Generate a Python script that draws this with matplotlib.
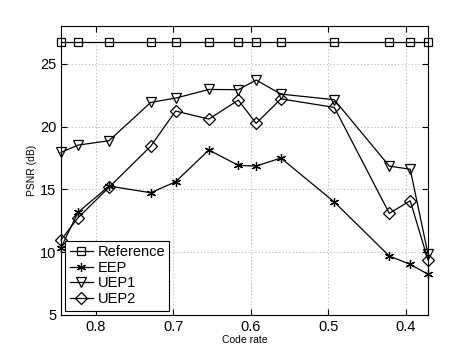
import matplotlib
matplotlib.use("Agg")
import matplotlib.pyplot as plt

code_rate = [0.845, 0.823, 0.783, 0.729, 0.697, 0.654, 0.616, 0.593, 0.561, 0.492, 0.421, 0.394, 0.371]
reference = [26.75] * 13
eep = [10.36, 13.17, 15.26, 14.73, 15.6, 18.13, 16.91, 16.85, 17.49, 13.99, 9.69, 9.03, 8.24]
uep1 = [17.94, 18.52, 18.87, 21.92, 22.26, 22.95, 22.93, 23.7, 22.58, 22.13, 16.85, 16.6, 9.85]
uep2 = [10.97, 12.74, 15.16, 18.44, 21.23, 20.59, 22.1, 20.25, 22.2, 21.52, 13.09, 14.09, 9.38]

xticks = [0.8, 0.7, 0.6, 0.5, 0.4]
yticks = [5, 10, 15, 20, 25]

plt.rcParams['font.family'] = ['Liberation Sans', 'DejaVu Sans']

fig = plt.figure(figsize=(4.74, 3.55), dpi=100)
ax = fig.add_axes([0.1287, 0.1127, 0.903 - 0.1287, 0.9268 - 0.1127])

kw = dict(color='black', linewidth=0.9, markerfacecolor='none', markeredgecolor='black',
          markeredgewidth=0.9, clip_on=False, zorder=3)
ax.plot(code_rate, reference, marker='s', markersize=5.5, label='Reference', **kw)
ax.plot(code_rate, eep, marker=(6, 2, 0), markersize=6.5, label='EEP', **kw)
ax.plot(code_rate, uep1, marker='v', markersize=7, label='UEP1', **kw)
ax.plot(code_rate, uep2, marker='D', markersize=6, label='UEP2', **kw)

ax.set_xlim(max(code_rate), min(code_rate))
ax.set_ylim(5, 28)
ax.set_xticks(xticks)
ax.set_xticklabels([f"{t:.1f}" for t in xticks])
ax.set_yticks(yticks)
ax.grid(True, linestyle=(0, (1, 2.5)), color='#aaaaaa', linewidth=0.7)
ax.tick_params(direction='in', top=True, right=True, labelsize=10.5, length=4)
for s in ax.spines.values():
    s.set_linewidth(0.8)

ax.set_xlabel('Code rate', fontsize=7.5, labelpad=1)
ax.set_ylabel('PSNR (dB)', fontsize=7.5, labelpad=2)

leg = ax.legend(loc='lower left', fontsize=10.5, frameon=True, fancybox=False,
                edgecolor='black', framealpha=1, handlelength=1.6, handletextpad=0.3,
                borderpad=0.3, labelspacing=0.12, borderaxespad=0.3)
leg.get_frame().set_linewidth(0.8)

fig.savefig('out.png', dpi=100)
